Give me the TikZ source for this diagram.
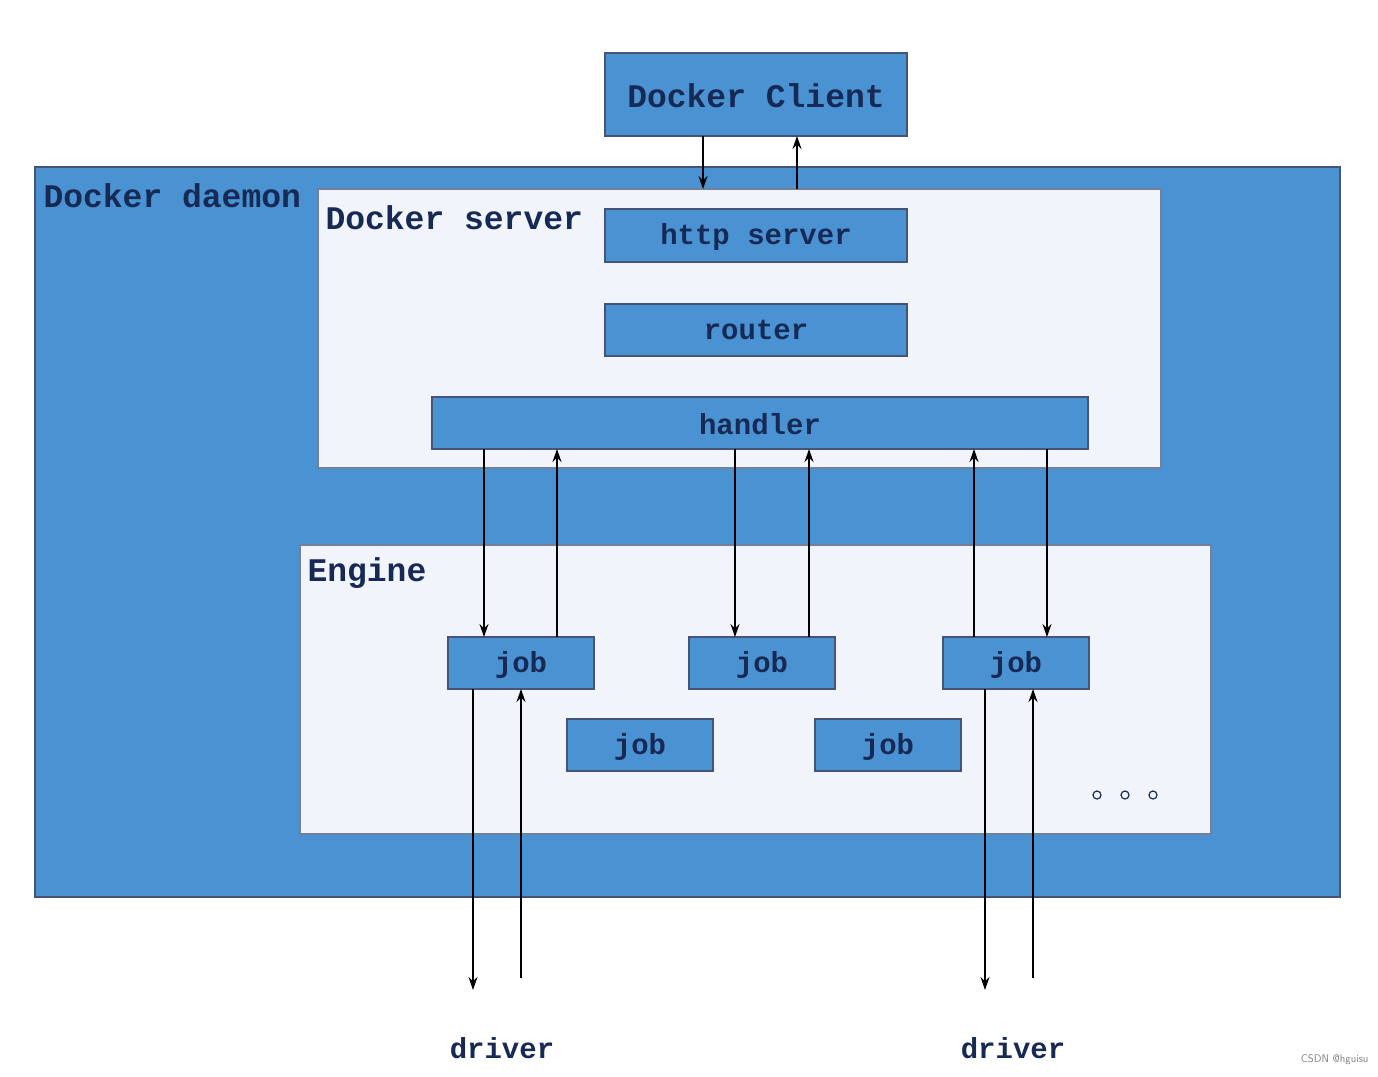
\documentclass[tikz,border=0pt]{standalone}
\usepackage{fontspec}
\setmonofont{Liberation Mono}
\usetikzlibrary{arrows.meta}
\definecolor{dblue}{HTML}{4A92D2}
\definecolor{lfill}{HTML}{F1F5FB}
\definecolor{ink}{HTML}{172A55}
\tikzset{
  box/.style={draw=ink!80, line width=1.2pt, fill=dblue},
  pane/.style={draw=ink!60, line width=1.2pt, fill=lfill},
  lbl/.style={text=ink, font=\ttfamily\bfseries\fontsize{29}{30}\selectfont},
  big/.style={text=ink, font=\ttfamily\bfseries\fontsize{33}{34}\selectfont},
  arr/.style={line width=1.5pt, black, -{Stealth[length=13pt,width=9pt]}}
}
\begin{document}
\begin{tikzpicture}[x=1pt,y=-1pt]
\useasboundingbox[fill=white] (0,0) rectangle (1378,1076);
\draw[box] (35,167) rectangle (1340,897);
\node[big,anchor=west] (daemon) at (40,196) {Docker daemon};
\draw[box] (605,53) rectangle (907,136);
\node[big] (client) at (756,96) {Docker Client};
\coordinate (clientB1) at (703,136); \coordinate (clientB2) at (797,136);
\draw[pane] (318,189) rectangle (1161,468);
\node[big,anchor=west] (server) at (322,218) {Docker server};
\coordinate (srvT1) at (703,189); \coordinate (srvT2) at (797,189);
\draw[box] (605,209) rectangle (907,262); \node[lbl] (http) at (756,237) {http server};
\draw[box] (605,304) rectangle (907,356); \node[lbl] (router) at (756,330) {router};
\draw[box] (432,397) rectangle (1088,449); \node[lbl] (handler) at (760,424) {handler};
\draw[pane] (300,545) rectangle (1211,834);
\node[big,anchor=west] (engine) at (304,573) {Engine};
\foreach \n/\x/\y in {j1/448/637,j2/689/637,j3/943/637,j4/567/719,j5/815/719}{
  \draw[box] (\x,\y) rectangle ++(146,52);
  \node[lbl] (\n) at (\x+73,\y+28) {job};
}
\foreach \x in {1097,1125,1153} \draw[ink,line width=1.2pt] (\x,795) circle (4);
\draw[arr] (clientB1) -- (srvT1);
\draw[arr] (srvT2) -- (clientB2);
\foreach \x in {484,735,1047} \draw[arr] (\x,449) -- (\x,637);
\foreach \x in {557,809,974} \draw[arr] (\x,637) -- (\x,449);
\foreach \x in {473,985} \draw[arr] (\x,689) -- (\x,990);
\foreach \x in {521,1033} \draw[arr] (\x,978) -- (\x,689);
\node[lbl] (d1) at (502,1048) {driver};
\node[lbl] (d2) at (1013,1048) {driver};
\node[text=gray,font=\sffamily\fontsize{11}{12}\selectfont,anchor=east] (csdn) at (1372,1060) {CSDN @hguisu};
\end{tikzpicture}
\end{document}
